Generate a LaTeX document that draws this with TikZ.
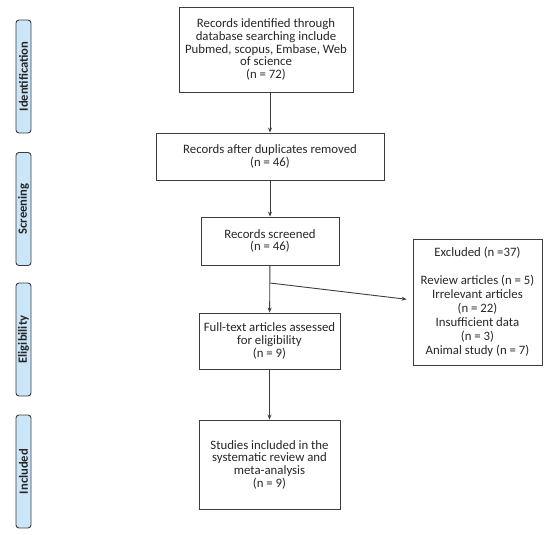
\documentclass[tikz,border=0pt]{standalone}
\usepackage{fontspec}
\setmainfont{Carlito}
\usetikzlibrary{arrows.meta}
\definecolor{stagefill}{HTML}{CCE6F9}
\definecolor{linegray}{HTML}{3C3C3C}
\begin{document}
\begin{tikzpicture}[x=1pt,y=-1pt,
    box/.style={draw=linegray,line width=0.9pt,align=center,inner sep=2pt,
      font=\fontsize{12.8}{12.7}\selectfont,text=black!85},
    stage/.style={draw=linegray,fill=stagefill,rounded corners=3pt,line width=0.9pt,
      minimum width=15pt,minimum height=113pt,inner sep=0pt},
    stagetext/.style={rotate=90,font=\fontsize{12.6}{12}\selectfont\bfseries,text=black!85},
    link/.style={draw=linegray,line width=0.9pt,-{Stealth[length=5pt,width=4pt]}}]

  \useasboundingbox (0,0) rectangle (550,535);

  % phase labels
  \begin{scope}[every node/.style={stage}]
    \node (identification) at (23.5,76.5) {};
    \node (screening)      at (23.5,209)  {};
    \node (eligibility)    at (23.5,339.5) {};
    \node (included)       at (23.5,471.5) {};
  \end{scope}
  \node[stagetext] at (identification) {Identification};
  \node[stagetext] at (screening)      {Screening};
  \node[stagetext] at (eligibility)    {Eligibility};
  \node[stagetext] at (included)       {Included};

  % flow boxes
  \begin{scope}[every node/.style={box}]
    \node[minimum width=174pt,minimum height=85pt] (found) at (266,49.5)
      {Records identified through\\database searching include\\Pubmed, scopus, Embase, Web\\of science\\(n = 72)};
    \node[minimum width=228pt,minimum height=47pt] (dedup) at (270,156.5)
      {Records after duplicates removed\\(n = 46)};
    \node[minimum width=138pt,minimum height=48pt] (screened) at (270,241)
      {Records screened\\(n = 46)};
    \node[minimum width=129pt,minimum height=126pt,
      font=\fontsize{12.8}{14}\selectfont] (excluded) at (477.5,302)
      {Excluded (n =37)\\[14pt]Review articles (n = 5)\\Irrelevant articles\\(n = 22)\\Insufficient data\\(n = 3)\\Animal study (n = 7)};
    \node[minimum width=141pt,minimum height=56pt] (fulltext) at (269.5,341)
      {Full-text articles assessed\\for eligibility\\(n = 9)};
    \node[minimum width=141pt,minimum height=89pt] (studies) at (269.5,464.5)
      {Studies included in the\\systematic review and\\meta-analysis\\(n = 9)};
  \end{scope}

  \coordinate (fork) at (270,283);

  \path[link] (found.south -| dedup) -- (dedup.north);
  \path[link] (dedup) -- (screened);
  \path[link] (screened) -- (fulltext);
  \path[link,shorten >=6pt] (fork) -- ([yshift=2pt]excluded.west);
  \path[link] (fulltext) -- (studies);

\end{tikzpicture}
\end{document}
